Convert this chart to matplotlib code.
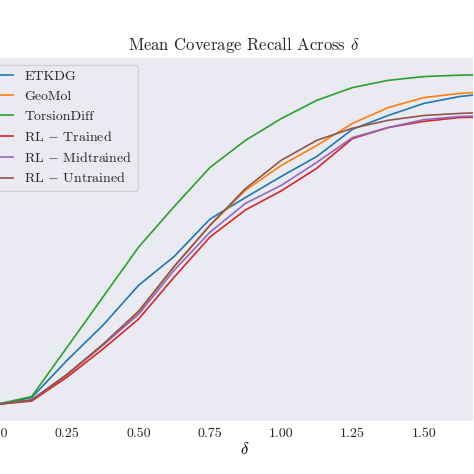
import numpy as np
import matplotlib
matplotlib.use("Agg")
import matplotlib.pyplot as plt

# ---- data ----
delta = [0.0, 0.125, 0.25, 0.375, 0.5, 0.625, 0.75, 0.875, 1.0, 1.125, 1.25, 1.375, 1.5, 1.625, 1.75]
etkdg = [0.0, 0.020, 0.129, 0.230, 0.346, 0.430, 0.538, 0.601, 0.662, 0.720, 0.799, 0.839, 0.874, 0.894, 0.905]
geomol = [0.0, 0.013, 0.086, 0.172, 0.268, 0.401, 0.520, 0.622, 0.694, 0.752, 0.816, 0.862, 0.891, 0.903, 0.909]
torsiondiff = [0.0, 0.023, 0.167, 0.312, 0.457, 0.575, 0.688, 0.767, 0.830, 0.883, 0.920, 0.941, 0.952, 0.956, 0.958]
rl_trained = [0.0, 0.010, 0.080, 0.161, 0.248, 0.370, 0.486, 0.565, 0.620, 0.686, 0.772, 0.804, 0.822, 0.833, 0.836]
rl_midtrained = [0.0, 0.013, 0.088, 0.172, 0.262, 0.390, 0.500, 0.584, 0.636, 0.703, 0.775, 0.804, 0.827, 0.836, 0.839]
rl_untrained = [0.0, 0.013, 0.088, 0.175, 0.271, 0.401, 0.520, 0.627, 0.709, 0.767, 0.802, 0.825, 0.839, 0.845, 0.849]
xtick_vals = [0.0, 0.25, 0.5, 0.75, 1.0, 1.25, 1.5]
xtick_labels = ["0.00", "0.25", "0.50", "0.75", "1.00", "1.25", "1.50"]

series = [
    ("ETKDG", etkdg, "#1f77b4"),
    ("GeoMol", geomol, "#ff7f0e"),
    ("TorsionDiff", torsiondiff, "#2ca02c"),
    (r"RL $-$ Trained", rl_trained, "#d62728"),
    (r"RL $-$ Midtrained", rl_midtrained, "#9467bd"),
    (r"RL $-$ Untrained", rl_untrained, "#8c564b"),
]

plt.rcParams.update({
    "font.family": "serif",
    "font.serif": ["cmr10"],
    "mathtext.fontset": "cm",
    "axes.unicode_minus": False,
    "axes.formatter.use_mathtext": True,
    "text.color": ".15",
    "xtick.color": ".15",
    "ytick.color": ".15",
})

W = H = 474
fig = plt.figure(figsize=(4.74, 4.74), dpi=100)
left_px, right_px, top_px, bot_px = -100, 473, 58, 421
ax = fig.add_axes([left_px / W, 1 - bot_px / H, (right_px - left_px) / W, (bot_px - top_px) / H])
ax.set_facecolor("#EAEAF2")
for s in ax.spines.values():
    s.set_visible(False)
ax.grid(False)

for label, vals, col in series:
    ax.plot(delta, vals, color=col, lw=1.2, label=label)

ax.set_xticks(xtick_vals)
ax.set_xticklabels(xtick_labels)
# x mapping: 0 -> -4 px, 285.2 px per unit
ppu = 285.2
ax.set_xlim((left_px + 4) / ppu, (right_px + 4) / ppu)
ax.tick_params(length=0, labelsize=10, pad=5)
ax.tick_params(axis="y", labelleft=False)

ax.set_title(r"Mean Coverage Recall Across $\delta$", fontsize=12,
             x=(244 - left_px) / (right_px - left_px), pad=6)
ax.set_xlabel(r"$\delta$", fontsize=12, labelpad=1)
ax.xaxis.label.set_x((245 - left_px) / (right_px - left_px))

leg = ax.legend(loc="upper right", bbox_to_anchor=(138 / W, 1 - 65 / H),
                bbox_transform=fig.transFigure, borderaxespad=0, fontsize=10,
                frameon=True, facecolor="#EAEAF2", edgecolor="0.8")

fig.savefig("out.png", dpi=100)
